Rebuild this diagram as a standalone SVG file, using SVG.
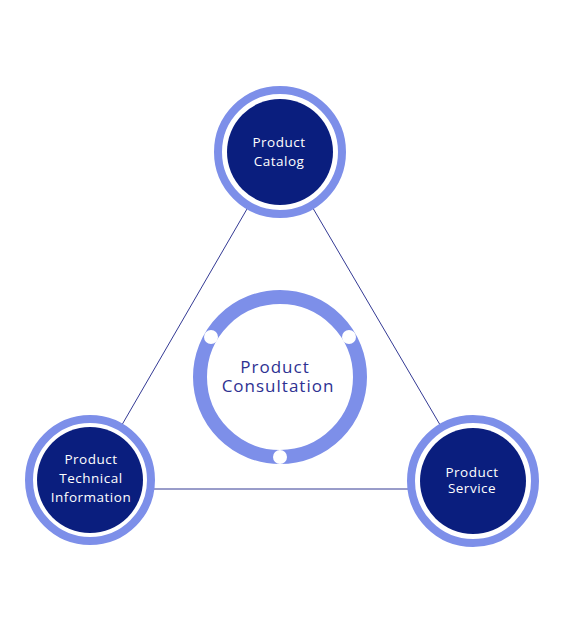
<svg xmlns="http://www.w3.org/2000/svg" width="564" height="635" viewBox="0 0 564 635">
<style>
.ring{fill:#ffffff;stroke:#7d8fe9;stroke-width:8}
.core{fill:#0a1e7e}
.lbl{font-family:"Open Sans","Noto Sans",sans-serif;font-size:13.5px;fill:#ffffff;text-anchor:middle;letter-spacing:0.5px}
.clbl{font-family:"Open Sans","Noto Sans",sans-serif;font-size:17px;fill:#2e3192;text-anchor:middle;letter-spacing:1px}
.conn{stroke:#343a94;stroke-width:1;fill:none}
.dot{fill:#ffffff}
</style>
<rect width="564" height="635" fill="#ffffff"/>
<g id="connectors">
<line class="conn" x1="280" y1="152" x2="90" y2="480"/>
<line class="conn" x1="280" y1="152" x2="473" y2="481"/>
<line class="conn" x1="90" y1="489" x2="473" y2="489"/>
</g>
<g id="center">
<circle cx="280" cy="377" r="80" fill="#ffffff" stroke="#7d8fe9" stroke-width="14"/>
<circle class="dot" cx="211" cy="337" r="7"/>
<circle class="dot" cx="349" cy="337" r="7"/>
<circle class="dot" cx="280" cy="457" r="7"/>
<text class="clbl" x="275" y="373">Product</text>
<text class="clbl" x="278" y="392">Consultation</text>
</g>
<g id="catalog">
<circle class="ring" cx="280" cy="152" r="62"/>
<circle class="core" cx="280" cy="152" r="53"/>
<text class="lbl" x="279" y="147">Product</text>
<text class="lbl" x="279" y="166">Catalog</text>
</g>
<g id="technical">
<circle class="ring" cx="90" cy="480" r="61"/>
<circle class="core" cx="90" cy="480" r="53"/>
<text class="lbl" x="91" y="464">Product</text>
<text class="lbl" x="91" y="483">Technical</text>
<text class="lbl" x="91" y="502">Information</text>
</g>
<g id="service">
<circle class="ring" cx="473" cy="481" r="62"/>
<circle class="core" cx="473" cy="481" r="53"/>
<text class="lbl" x="472" y="477">Product</text>
<text class="lbl" x="472" y="492.5">Service</text>
</g>
</svg>
